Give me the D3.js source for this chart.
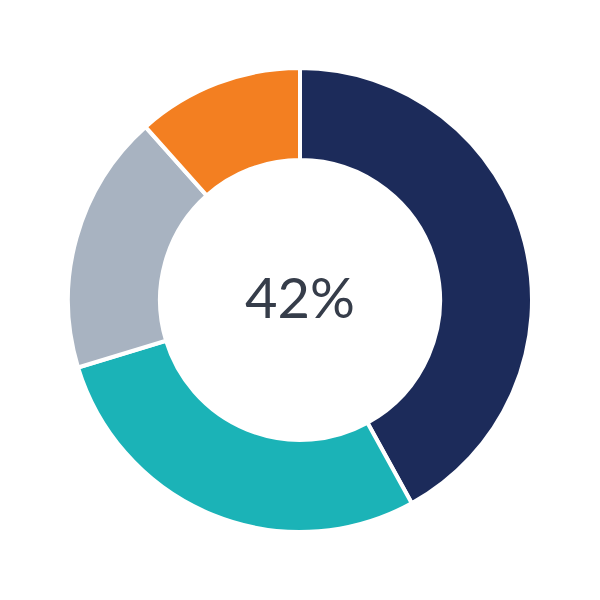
<!DOCTYPE html>
<html>
<head>
<meta charset="utf-8">
<title>Donut</title>
<style>
  body { margin: 0; background: #fff; }
  svg { display: block; }
</style>
</head>
<body>
<div id="chart"></div>
<script src="https://d3js.org/d3.v7.min.js"></script>
<script>
// segment data, clockwise from 12 o'clock
var categories = ["A", "B", "C", "D"];
var values = [42, 28.3, 18.1, 11.6];
var colours = ["#1c2b5a", "#1bb3b7", "#a8b3c1", "#f37f21"];
var centreLabel = "42%";

var width = 600, height = 600,
    outerR = 232, innerR = 140;

var svg = d3.select("#chart").append("svg")
    .attr("width", width)
    .attr("height", height);

var g = svg.append("g")
    .attr("transform", "translate(" + 300 + "," + 300 + ")");

var pie = d3.pie().sort(null).value(function(d){ return d.v; });
var arc = d3.arc().innerRadius(innerR).outerRadius(outerR);

var data = categories.map(function(c, i){ return {k: c, v: values[i]}; });
var colour = d3.scaleOrdinal().domain(categories).range(colours);

g.selectAll("path")
    .data(pie(data))
    .enter()
    .append("path")
    .attr("d", arc)
    .attr("fill", function(d){ return colour(d.data.k); })
    .attr("stroke", "#fff")
    .attr("stroke-width", 4);

g.append("text")
    .attr("text-anchor", "middle")
    .attr("y", 18)
    .style("font-family", "Lato, 'Open Sans', sans-serif")
    .style("font-size", "56px")
    .style("fill", "#363d4a")
    .text(centreLabel);
</script>
</body>
</html>
